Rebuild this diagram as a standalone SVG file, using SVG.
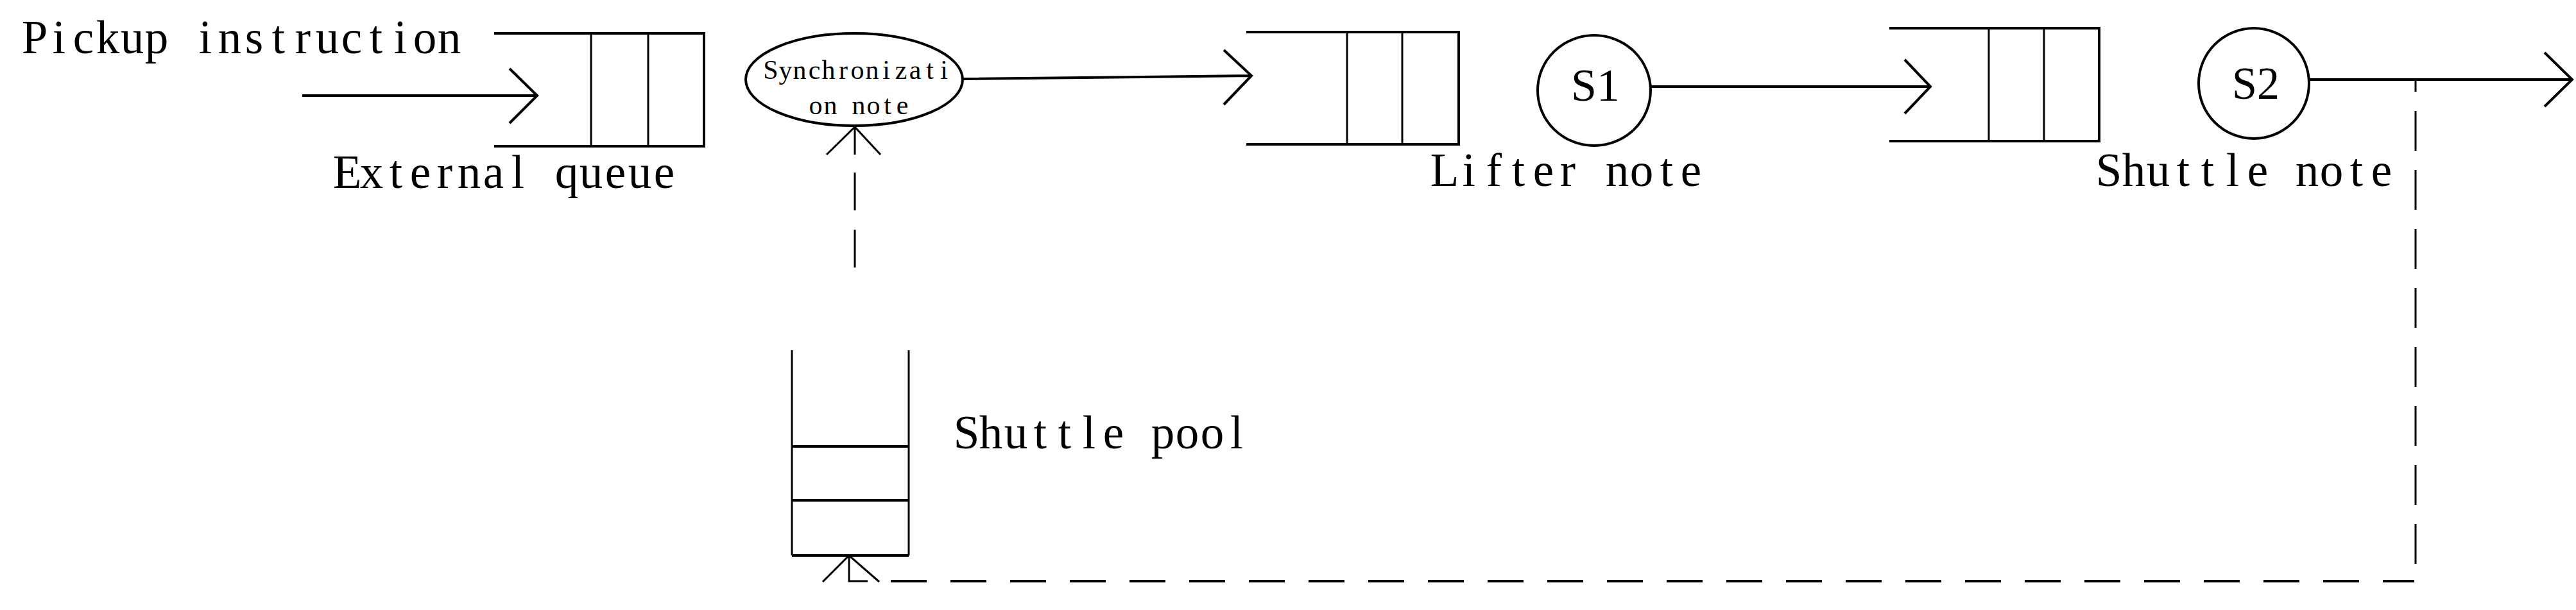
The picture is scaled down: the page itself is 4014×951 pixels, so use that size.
<svg xmlns="http://www.w3.org/2000/svg" width="4014" height="951" viewBox="0 0 4014 951">
<style>
.s{fill:none;stroke:#000;stroke-width:4}
.t{fill:none;stroke:#000;stroke-width:3}
.d{fill:none;stroke:#000;stroke-width:4}
.lbl{font-family:"Liberation Serif","DejaVu Serif",serif;font-size:73px;fill:#000;text-anchor:middle}
.sm{font-family:"Liberation Serif","DejaVu Serif",serif;font-size:42px;fill:#000;text-anchor:middle}
.nm{font-family:"Liberation Serif","DejaVu Serif",serif;font-size:72px;fill:#000}
</style>
<rect width="4014" height="951" fill="#fff"/>
<g id="pickup-label"><text class="lbl" x="54 92 130 168 206 244 282 320 358 396 434 472 510 548 586 624 662 700" y="83">Pickup instruction</text></g>
<g id="external-queue">
<path class="s" d="M770,52 H1097 V228 H770"/>
<path class="t" d="M921,52 V228 M1010,52 V228"/>
<text class="lbl" x="541 579 617 655 693 731 769 807 845 883 921 959 997 1035" y="293">External queue</text>
</g>
<g id="sync-note">
<ellipse class="s" cx="1331" cy="124" rx="169" ry="72"/>
<text class="sm" x="1201 1224 1246 1269 1291 1314 1336 1359 1381 1404 1426 1449 1471" y="123">Synchronizati</text>
<text class="sm" x="1271 1294 1316 1338 1361 1383 1406" y="178">on note</text>
</g>
<g id="lifter-queue">
<path class="s" d="M1942,50 H2273 V225 H1942"/>
<path class="t" d="M2099,50 V225 M2185,50 V225"/>
<text class="lbl" x="2251 2289 2328 2366 2405 2443 2481 2520 2558 2597 2635" y="290">Lifter note</text>
</g>
<g id="s1">
<ellipse class="s" cx="2484" cy="141" rx="88" ry="86"/>
<text class="nm" x="2486" y="157" text-anchor="middle" textLength="76" lengthAdjust="spacingAndGlyphs">S1</text>
</g>
<g id="shuttle-queue">
<path class="s" d="M2944,44 H3271 V220 H2944"/>
<path class="t" d="M3099,44 V220 M3185,44 V220"/>
<text class="lbl" x="3286 3325 3363 3402 3440 3479 3518 3556 3595 3633 3672 3711" y="290">Shuttle note</text>
</g>
<g id="s2">
<ellipse class="s" cx="3512" cy="130" rx="86" ry="86"/>
<text class="nm" x="3515" y="154" text-anchor="middle" textLength="74" lengthAdjust="spacingAndGlyphs">S2</text>
</g>
<g id="shuttle-pool">
<path class="t" d="M1234,546 V866 M1416,546 V866"/>
<path class="s" d="M1234,696 H1416 M1234,780 H1416 M1234,866 H1416"/>
<text class="lbl" x="1506 1544 1583 1621 1659 1697 1735 1774 1812 1850 1889 1927" y="699">Shuttle pool</text>
</g>
<g id="connectors">
<path class="s" d="M471,149 H837 M794,107 L837,149 L794,192"/>
<path class="s" d="M1500,123 L1950,118 M1907,78 L1950,118 L1907,163"/>
<path class="s" d="M2572,135 H3008 M2968,93 L3008,135 L2968,177"/>
<path class="s" d="M3599,124 H4008 M3965,82 L4008,124 L3965,166"/>
<path class="t" d="M1332,198 V241 M1288,241 L1332,198 L1372,241"/>
<path class="t" d="M1332,417 V269" stroke-dasharray="59 30"/>
<path class="t" d="M3764,124 V906" stroke-dasharray="62 30" stroke-dashoffset="43"/>
<path class="d" d="M1388,906 H3762" stroke-dasharray="56 37"/>
<path class="t" d="M1282,907 L1323,866 L1370,907 M1323,866 V906 H1352"/>
</g>
</svg>
